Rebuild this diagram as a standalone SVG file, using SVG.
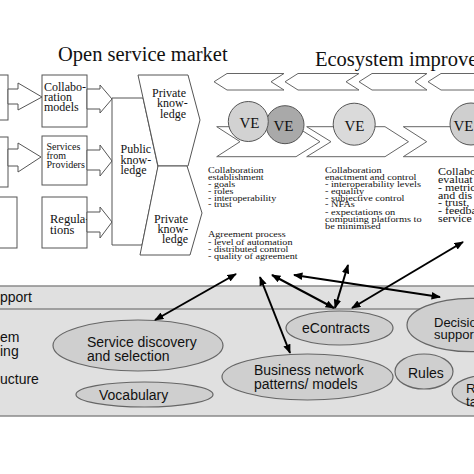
<svg xmlns="http://www.w3.org/2000/svg" width="474" height="474" viewBox="0 0 474 474">
<style>
.sf{font-family:"Liberation Serif","Times New Roman",serif;fill:#111}
.ss{font-family:"Liberation Sans",Arial,sans-serif;fill:#111}
.shp{fill:#fff;stroke:#555;stroke-width:1}
.chev{fill:#fff;stroke:#666;stroke-width:1}
.ell{fill:#cfcfcf;stroke:#666;stroke-width:1.2}
.ve{stroke:#555;stroke-width:1}
.conn{stroke:#000;stroke-width:2;fill:none;marker-start:url(#ah);marker-end:url(#ah)}
</style>
<defs>
<marker id="ah" viewBox="0 0 10 8" refX="9" refY="4" markerWidth="9.5" markerHeight="7.5" markerUnits="userSpaceOnUse" orient="auto-start-reverse">
<path d="M0,0 L10,4 L0,8 z" fill="#000"/>
</marker>
</defs>
<rect width="474" height="474" fill="#fff"/>

<!-- Titles -->
<text class="sf" x="58" y="61" font-size="20.5">Open service market</text>
<text class="sf" x="315" y="66" font-size="20.5">Ecosystem improve</text>

<!-- Left partial boxes and arrows -->
<g id="left1"><rect class="shp" x="-2" y="75" width="10" height="45"/>
<polygon class="shp" points="8,89 18,89 18,83 42,97 18,110 18,104 8,104"/></g>
<g id="left2"><rect class="shp" x="-2" y="137" width="10" height="50"/>
<polygon class="shp" points="8,149 18,149 18,143 41,157 18,172 18,166 8,166"/></g>
<g id="left3"><rect class="shp" x="-2" y="197" width="19" height="51"/></g>

<!-- Collaboration models -->
<g id="collab">
<rect class="shp" x="42" y="75" width="45" height="52"/>
<text class="sf" font-size="12"><tspan x="44" y="91">Collabo-</tspan><tspan x="44" y="101">ration</tspan><tspan x="44" y="111">models</tspan></text>
<polygon class="shp" points="87,89 100,89 100,85 112,99 100,113 100,109 87,109"/>
</g>
<g id="services">
<rect class="shp" x="42" y="136" width="45" height="49"/>
<text class="sf" font-size="10"><tspan x="46.5" y="150">Services</tspan><tspan x="46.5" y="159">from</tspan><tspan x="46.5" y="168">Providers</tspan></text>
<polygon class="shp" points="87,150 100,150 100,145 112,161 100,176 100,170 87,170"/>
</g>
<g id="regulations">
<rect class="shp" x="42" y="197" width="45" height="51"/>
<text class="sf" font-size="12.5"><tspan x="50" y="223">Regula-</tspan><tspan x="50" y="234">tions</tspan></text>
<polygon class="shp" points="87,212 100,212 100,207 112,222 100,238 100,232 87,232"/>
</g>

<!-- Knowledge -->
<g id="public">
<polygon class="shp" points="112,98 143,98 158,167 142,245 112,245"/>
<text class="sf" font-size="12"><tspan x="120.5" y="153">Public</tspan><tspan x="120.5" y="163.5">know-</tspan><tspan x="120.5" y="174">ledge</tspan></text>
</g>
<g id="private1">
<polygon class="shp" points="138,75 188,75 200,120 188,166 158,166"/>
<text class="sf" font-size="12"><tspan x="152" y="96.8">Private</tspan><tspan x="157" y="107.3">know-</tspan><tspan x="160" y="117.5">ledge</tspan></text>
</g>
<g id="private2">
<polygon class="shp" points="158,166 187,166 202,213 190,255 140,255"/>
<text class="sf" font-size="12"><tspan x="154" y="222.5">Private</tspan><tspan x="157.5" y="233">know-</tspan><tspan x="162" y="243">ledge</tspan></text>
</g>

<!-- Ecosystem chevrons top row -->
<g id="toprow">
<polygon class="chev" points="214,81.75 227,73.5 284,73.5 271,81.75 284,90 227,90"/>
<polygon class="chev" points="285,81.75 298,73.5 359,73.5 346,81.75 359,90 298,90"/>
<polygon class="chev" points="359,81.75 372,73.5 427,73.5 415,81.75 427,90 372,90"/>
<polygon class="chev" points="428,81.75 441,73.5 480,73.5 480,90 441,90"/>
</g>

<!-- Ecosystem chevrons bottom row -->
<g id="botrow">
<polygon class="chev" points="216.7,126.7 296,126.7 320,141.7 296,156.7 216.7,156.7 240,141.7"/>
<polygon class="chev" points="306.7,126.7 385,126.7 408.5,141.7 385,156.7 306.7,156.7 331,141.7"/>
<polygon class="chev" points="403.3,126.7 480,126.7 480,156.7 403.3,156.7 426.7,141.7"/>
</g>

<!-- VE circles -->
<g id="ve2"><circle class="ve" cx="285" cy="124.7" r="19" fill="#a9a9a9"/>
<text class="sf" x="283.5" y="130.5" font-size="15" text-anchor="middle">VE</text></g>
<g id="ve1"><circle class="ve" cx="248.3" cy="121.5" r="20" fill="#d2d2d2"/>
<text class="sf" x="249.5" y="128.3" font-size="15" text-anchor="middle">VE</text></g>
<g id="ve3"><circle class="ve" cx="354.2" cy="124.2" r="21" fill="#dadada"/>
<text class="sf" x="354.5" y="130.5" font-size="15" text-anchor="middle">VE</text></g>
<g id="ve4"><circle class="ve" cx="471" cy="124" r="21" fill="#cfcfcf"/>
<text class="sf" x="463.5" y="130.5" font-size="15" text-anchor="middle">VE</text></g>

<!-- Text blocks -->
<g id="block1" class="sf" font-size="9.2" transform="translate(208,0) scale(1.1,1)">
<text x="0" y="173.5">Collaboration</text>
<text x="0" y="180.3">establishment</text>
<text x="0" y="187.1">- goals</text>
<text x="0" y="193.9">- roles</text>
<text x="0" y="200.7">- interoperability</text>
<text x="0" y="207.5">- trust</text>
<text x="0" y="237.5">Agreement process</text>
<text x="0" y="244.6">- level of automation</text>
<text x="0" y="251.7">- distributed control</text>
<text x="0" y="258.8">- quality of agreement</text>
</g>
<g id="block2" class="sf" font-size="9.2" transform="translate(325,0) scale(1.12,1)">
<text x="0" y="173.5">Collaboration</text>
<text x="0" y="180.3">enactment and control</text>
<text x="0" y="187.1">- interoperability levels</text>
<text x="0" y="193.9">- equality</text>
<text x="0" y="200.7">- subjective control</text>
<text x="0" y="207.5">- NFAs</text>
<text x="0" y="215">- expectations on</text>
<text x="0" y="222">computing platforms to</text>
<text x="0" y="229">be minimised</text>
</g>
<g id="block3" class="sf" font-size="11" transform="translate(438,0) scale(1.09,1)">
<text x="0" y="175.5">Collabo</text>
<text x="0" y="183.2">evaluat</text>
<text x="0" y="190.9">- metric</text>
<text x="0" y="198.6">and dis</text>
<text x="0" y="206.3">- trust,</text>
<text x="0" y="214">- feedba</text>
<text x="0" y="221.7">service</text>
</g>

<!-- Bottom band -->
<g id="band">
<rect x="-2" y="286" width="478" height="130" fill="#e0e0e0" stroke="#8a8a8a" stroke-width="1.5"/>
<line x1="-2" y1="309" x2="476" y2="309" stroke="#8a8a8a" stroke-width="1.5"/>
<text class="ss" x="0" y="302" font-size="14">pport</text>
<text class="ss" x="0" y="342" font-size="14">em</text>
<text class="ss" x="0" y="355.5" font-size="14">ing</text>
<text class="ss" x="0" y="384" font-size="14">ucture</text>
</g>

<g id="service-discovery">
<ellipse class="ell" cx="138" cy="345.5" rx="85" ry="25.5"/>
<text class="ss" font-size="14"><tspan x="87" y="347">Service discovery</tspan><tspan x="87" y="360.5">and selection</tspan></text>
</g>
<g id="vocabulary">
<ellipse class="ell" cx="144.5" cy="394.5" rx="68.5" ry="12.5"/>
<text class="ss" x="99" y="399.5" font-size="14">Vocabulary</text>
</g>
<g id="econtracts">
<ellipse class="ell" cx="339.5" cy="328" rx="53.5" ry="17"/>
<text class="ss" x="302" y="333" font-size="14">eContracts</text>
</g>
<g id="business">
<ellipse class="ell" cx="307.5" cy="377" rx="85.5" ry="23"/>
<text class="ss" font-size="14"><tspan x="254" y="374.5">Business network</tspan><tspan x="254" y="388.5">patterns/ models</tspan></text>
</g>
<g id="rules">
<ellipse class="ell" cx="424" cy="371.5" rx="29" ry="17.5"/>
<text class="ss" x="408" y="378" font-size="14">Rules</text>
</g>
<g id="decision">
<ellipse class="ell" cx="471" cy="325" rx="64" ry="26.7"/>
<text class="ss" font-size="13"><tspan x="434" y="327">Decisio</tspan><tspan x="434" y="339">suppor</tspan></text>
</g>
<g id="rta">
<ellipse class="ell" cx="490" cy="391.5" rx="38" ry="16.5"/>
<text class="ss" font-size="13.5"><tspan x="466" y="393">R</tspan><tspan x="466" y="405.5">ta</tspan></text>
</g>

<!-- Connectors -->
<g id="connectors">
<line class="conn" x1="236" y1="274" x2="155" y2="320"/>
<line class="conn" x1="260" y1="277" x2="290" y2="353"/>
<line class="conn" x1="272" y1="275" x2="334" y2="308"/>
<line class="conn" x1="348" y1="265" x2="335" y2="308"/>
<line class="conn" x1="463" y1="242" x2="352" y2="308"/>
<line class="conn" x1="294" y1="275" x2="440" y2="297"/>
</g>
</svg>
